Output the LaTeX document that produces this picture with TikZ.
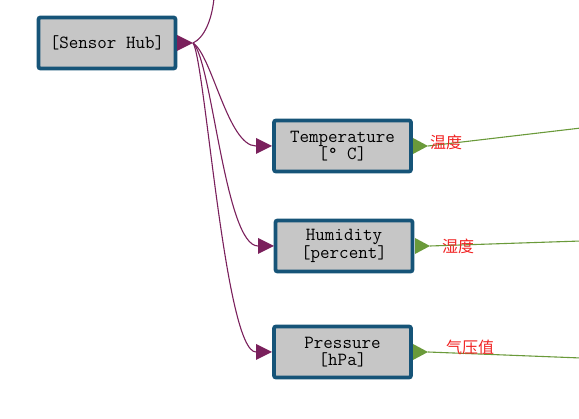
\documentclass[tikz,border=0pt]{standalone}
\usepackage{fontspec}
\newfontfamily\cjk{Noto Sans CJK SC}
\definecolor{boxfill}{RGB}{198,198,198}
\definecolor{boxline}{RGB}{22,84,120}
\definecolor{wire}{RGB}{122,32,92}
\definecolor{gwire}{RGB}{106,154,58}
\definecolor{lbl}{RGB}{240,35,35}
\begin{document}
\begin{tikzpicture}[x=1pt,y=-1pt,
  block/.style={draw=boxline,line width=3.8pt,fill=boxfill,rounded corners=2pt,
    minimum width=137pt,minimum height=51pt,align=center,inner sep=0pt,
    font=\ttfamily\fontsize{18.5}{17.5}\selectfont},
  inport/.style={fill=wire},
  outport/.style={fill=gwire},
  wirel/.style={draw=wire,line width=1.1pt},
  gwirel/.style={draw=gwire,line width=1.1pt},
  zh/.style={text=lbl,font=\cjk\fontsize{16}{16}\selectfont,inner sep=0pt}]
\useasboundingbox (0,0) rectangle (579,419);
\node[block] (hub) at (107,43) {[Sensor Hub]};
\node[block] (temp) at (342.5,146) {Temperature\\{}{[}°\ C{]}};
\node[block] (hum) at (344,246) {Humidity\\{}{[}percent{]}};
\node[block] (pres) at (342.5,352) {Pressure\\{}{[}hPa{]}};
% ports
\coordinate (hubtip) at (193,43);
\coordinate (tin) at (256,146);
\coordinate (hin) at (258,246);
\coordinate (pin) at (256,352);
\coordinate (tout) at (428,146);
\coordinate (hout) at (430,246);
\coordinate (pout) at (428,352);
\coordinate (top) at (214,-2);
\coordinate (tend) at (581,128);
\coordinate (hend) at (581,241);
\coordinate (pend) at (581,358);
% purple wires
\draw[wirel] (hubtip) .. controls (204,38) and (212,20) .. (top);
\draw[wirel] (hubtip) .. controls (212,55) and (228,146) .. (tin);
\draw[wirel] (hubtip) .. controls (212,60) and (225,246) .. (hin);
\draw[wirel] (hubtip) .. controls (205,60) and (225,352) .. (pin);
% green wires
\draw[gwirel] (tout) -- (tend);
\draw[gwirel] (hout) -- (hend);
\draw[gwirel] (pout) -- (pend);
% triangles
\fill[inport] (hubtip) ++(-16,-8) -- (hubtip) -- ++(-16,8) -- cycle;
\fill[inport] (tin) ++(0,-8) -- ++(16,8) -- ++(-16,8) -- cycle;
\fill[inport] (hin) ++(0,-8) -- ++(16,8) -- ++(-16,8) -- cycle;
\fill[inport] (pin) ++(0,-8) -- ++(16,8) -- ++(-16,8) -- cycle;
\fill[outport] (tout) ++(-15,-8) -- (tout) -- ++(-15,8) -- cycle;
\fill[outport] (hout) ++(-15,-8) -- (hout) -- ++(-15,8) -- cycle;
\fill[outport] (pout) ++(-15,-8) -- (pout) -- ++(-15,8) -- cycle;
% labels
\node[zh,anchor=west] (lt) at (430,142) {温度};
\node[zh,anchor=west] (lh) at (442,246) {湿度};
\node[zh,anchor=west] (lp) at (446,347) {气压值};
\end{tikzpicture}
\end{document}
